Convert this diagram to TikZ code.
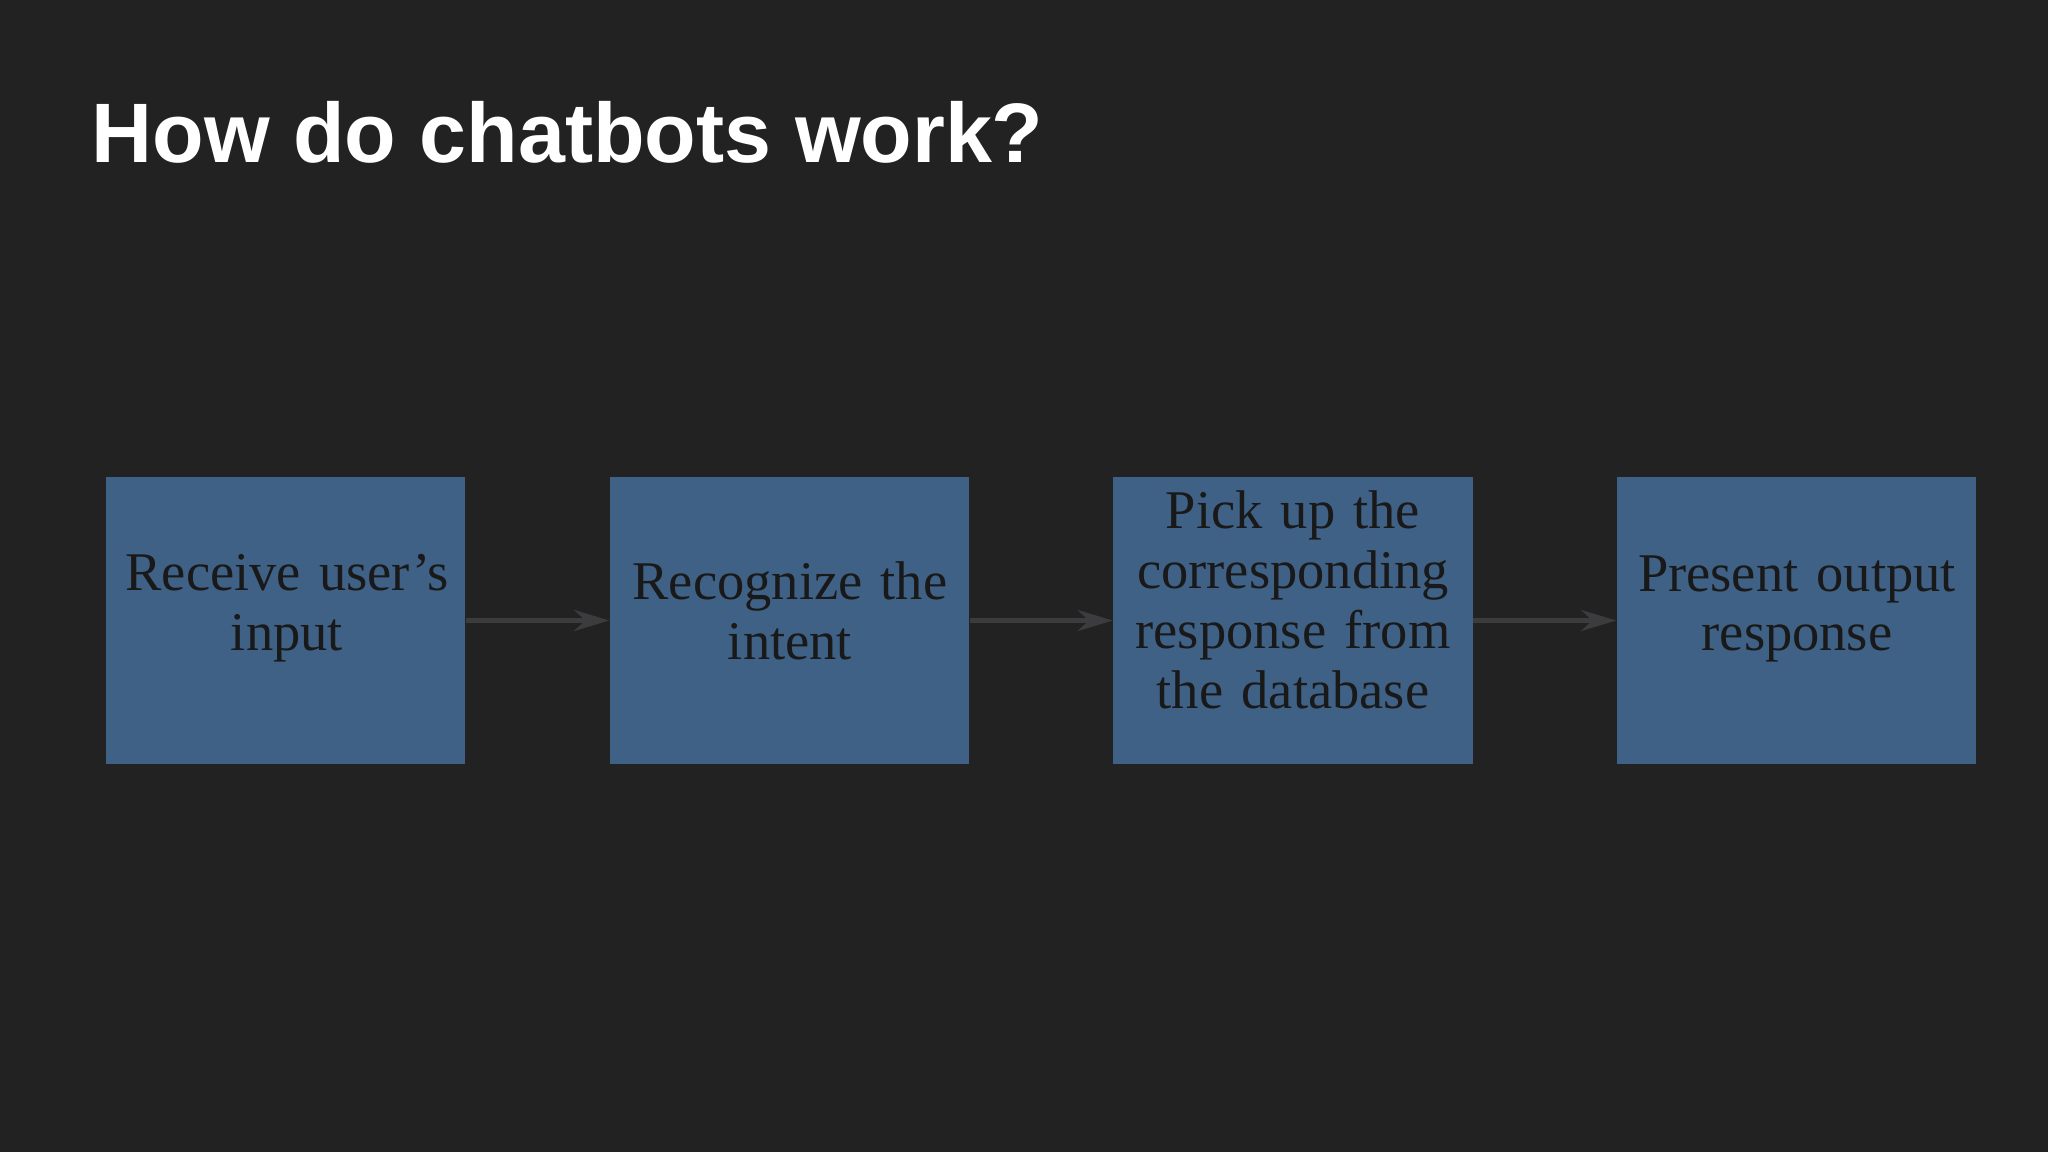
\documentclass[tikz,border=0pt]{standalone}
\usepackage{fontspec}
\setmainfont{Liberation Serif}
\newfontfamily\titlefont{Liberation Sans}
\usetikzlibrary{arrows.meta}
\definecolor{bg}{HTML}{222223}
\definecolor{boxc}{HTML}{3F6186}
\definecolor{arr}{HTML}{3C3C3E}
\tikzset{
 stepbox/.style={fill=boxc,draw=none,minimum width=3.59cm,minimum height=2.87cm,inner sep=0},
 lbl/.style={text=black!90,font=\fontsize{15.5}{17}\selectfont,align=center,text width=3.3cm},
 conn/.style={draw=arr,line width=1.3pt,-{Stealth[length=10pt,width=6pt]}}
}
\begin{document}
\begin{tikzpicture}[x=0.01cm,y=-0.01cm]
\fill[bg] (0,0) rectangle (2048,1152);
\useasboundingbox (0,0) rectangle (2048,1152);
\node[anchor=base west,text=white,inner sep=0,font=\titlefont\bfseries\fontsize{24}{28}\selectfont] (title) at (91,163) {How do chatbots work?};
\node[stepbox] (b1) at (285.5,620.5) {};
\node[stepbox] (b2) at (789.5,620.5) {};
\node[stepbox] (b3) at (1293,620.5) {};
\node[stepbox] (b4) at (1796.5,620.5) {};
\node[lbl] (t1) at (287,608) {Receive user’s\\input};
\node[lbl] (t2) at (790,611) {Recognize the\\intent};
\node[lbl] (t3) at (1293,600) {Pick up the\\corresponding\\response from\\the database};
\node[lbl] (t4) at (1797,609) {Present output\\response};
\draw[conn] (b1.east) ++(0,0) -- (b2.west);
\draw[conn] (b2.east) -- (b3.west);
\draw[conn] (b3.east) -- (b4.west);
\end{tikzpicture}
\end{document}
